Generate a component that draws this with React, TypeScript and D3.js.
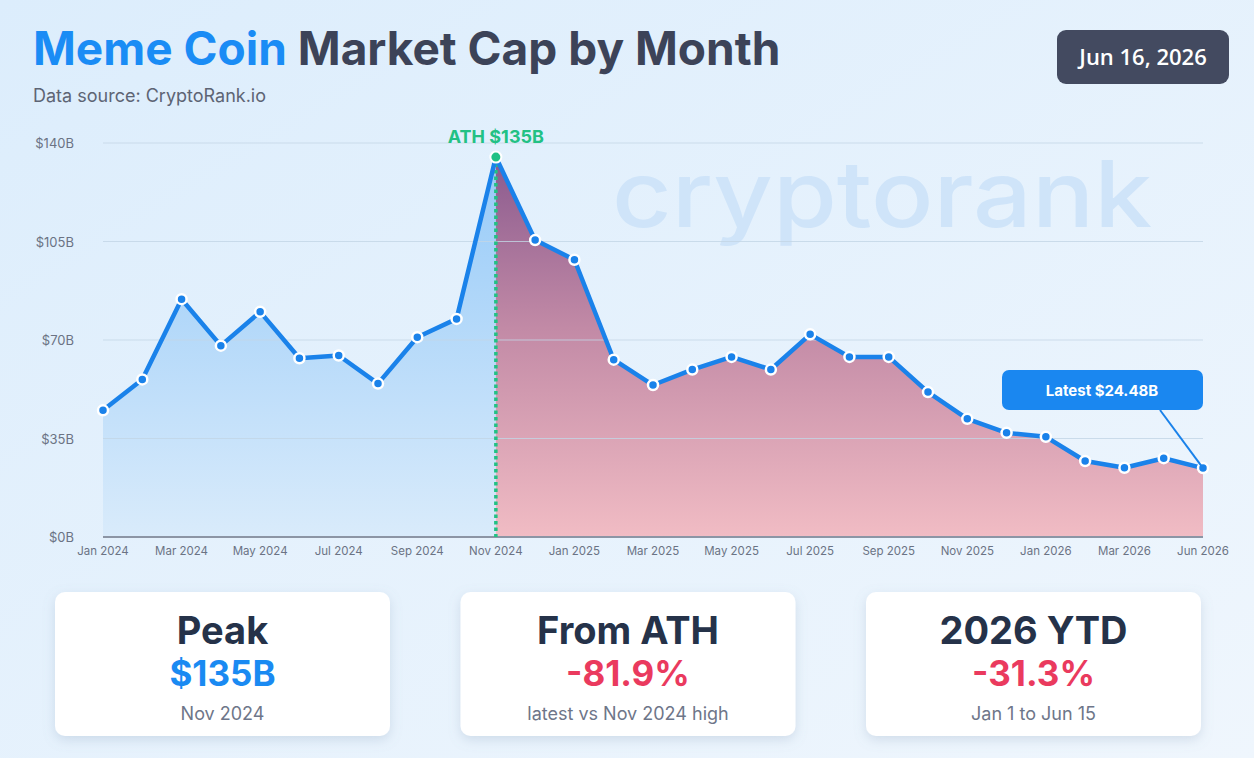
import * as d3 from 'd3';
import React from 'react';

// month labels on the x axis (last point is the partial current month)
const months = [
	'Jan 2024', 'Feb 2024', 'Mar 2024', 'Apr 2024', 'May 2024', 'Jun 2024',
	'Jul 2024', 'Aug 2024', 'Sep 2024', 'Oct 2024', 'Nov 2024', 'Dec 2024',
	'Jan 2025', 'Feb 2025', 'Mar 2025', 'Apr 2025', 'May 2025', 'Jun 2025',
	'Jul 2025', 'Aug 2025', 'Sep 2025', 'Oct 2025', 'Nov 2025', 'Dec 2025',
	'Jan 2026', 'Feb 2026', 'Mar 2026', 'Apr 2026', 'Jun 2026',
];
// market cap, $B
const marketCap = [
	45, 56, 84.5, 68, 80, 63.5, 64.5, 54.5, 71, 77.5, 135, 105.5,
	98.5, 63, 54, 59.5, 64, 59.5, 72, 64, 64, 51.5, 42, 37,
	35.6, 27, 24.6, 28, 24.48,
];
const yTicks = [0, 35, 70, 105, 140];
const tickMonths = [
	'Jan 2024', 'Mar 2024', 'May 2024', 'Jul 2024', 'Sep 2024', 'Nov 2024',
	'Jan 2025', 'Mar 2025', 'May 2025', 'Jul 2025', 'Sep 2025', 'Nov 2025',
	'Jan 2026', 'Mar 2026', 'Jun 2026',
];
const athMonth = 'Nov 2024';
const cards = [
	{ title: 'Peak', value: '$135B', sub: 'Nov 2024', color: '#1a8af2' },
	{ title: 'From ATH', value: '-81.9%', sub: 'latest vs Nov 2024 high', color: '#ea3a5e' },
	{ title: '2026 YTD', value: '-31.3%', sub: 'Jan 1 to Jun 15', color: '#ea3a5e' },
];

const W = 1254;
const H = 758;
const FONT = 'Inter, "Noto Sans", sans-serif';

const App = () => {
	const data = months.map((m, i) => ({ m, v: marketCap[i] }));
	const x = d3.scalePoint<string>().domain(months).range([103, 1203]);
	const y = d3.scaleLinear().domain([0, 140]).range([537, 143]);

	const athIdx = months.indexOf(athMonth);
	const before = data.slice(0, athIdx + 1);
	const after = data.slice(athIdx);
	const last = data[data.length - 1];

	const area = d3.area<{ m: string; v: number }>()
		.x((d) => x(d.m)!)
		.y0(y(0))
		.y1((d) => y(d.v));
	const line = d3.line<{ m: string; v: number }>()
		.x((d) => x(d.m)!)
		.y((d) => y(d.v));

	const athX = x(athMonth)!;
	const athY = y(marketCap[athIdx]);

	return (
		<svg width={W} height={H} style={{ position: 'fixed', left: 0, top: 0 }} fontFamily={FONT}>
			<defs>
				<linearGradient id="bg" x1="0" y1="0" x2="1" y2="1">
					<stop offset="0%" stopColor="#dcedfc" />
					<stop offset="100%" stopColor="#eff6fd" />
				</linearGradient>
				<linearGradient id="blueArea" gradientUnits="userSpaceOnUse" x1="0" y1={y(140)} x2="0" y2={y(0)}>
					<stop offset="0%" stopColor="#94c9f8" />
					<stop offset="100%" stopColor="#d9ebfb" />
				</linearGradient>
				<linearGradient id="redArea" gradientUnits="userSpaceOnUse" x1="0" y1={y(135)} x2="0" y2={y(0)}>
					<stop offset="0%" stopColor="#8a5a8e" />
					<stop offset="45%" stopColor="#c28aa6" />
					<stop offset="100%" stopColor="#f1bcc4" />
				</linearGradient>
				<filter id="shadow" x="-10%" y="-10%" width="120%" height="140%">
					<feDropShadow dx="0" dy="4" stdDeviation="6" floodColor="#7a93b0" floodOpacity="0.25" />
				</filter>
			</defs>
			<rect width={W} height={H} fill="url(#bg)" />

			{/* title */}
			<text x={33} y={65} fontSize={46} fontWeight={700}>
				<tspan fill="#1a8cf5">Meme Coin</tspan>
				<tspan fill="#3c4358"> Market Cap by Month</tspan>
			</text>
			<text x={33} y={102} fontSize={18} fill="#5d6474">Data source: CryptoRank.io</text>

			<rect x={1057} y={30} width={172} height={54} rx={9} fill="#434a60" />
			<text x={1143} y={65} textAnchor="middle" fontSize={22} fontWeight={600}
				fill="#ffffff" fontFamily='"Open Sans", sans-serif'>Jun 16, 2026</text>

			{/* watermark */}
			<text x={612} y={227} fontSize={92} fontWeight={500} fill="#cfe4f9"
				textLength={540} lengthAdjust="spacingAndGlyphs">cryptorank</text>

			{/* areas */}
			<path d={area(before)!} fill="url(#blueArea)" />
			<path d={area(after)!} fill="url(#redArea)" />

			{/* grid */}
			{yTicks.filter((t) => t > 0).map((t) => (
				<line key={t} x1={103} x2={1203} y1={y(t)} y2={y(t)} stroke="#c3d6e6" strokeWidth={1.2} opacity={0.8} />
			))}
			{yTicks.map((t) => (
				<text key={t} x={74} y={y(t) + 5} textAnchor="end" fontSize={13} fill="#6b7384">${t}B</text>
			))}
			<line x1={103} x2={1203} y1={y(0)} y2={y(0)} stroke="#8c95a5" strokeWidth={2} />
			{tickMonths.map((m) => (
				<text key={m} x={x(m)} y={555} textAnchor="middle" fontSize={11.5} fill="#6b7384">{m}</text>
			))}

			{/* ATH marker */}
			<line x1={athX} x2={athX} y1={athY} y2={y(0)} stroke="#22c184" strokeWidth={3.5} strokeDasharray="3.5,3" />

			<path d={line(data)!} fill="none" stroke="#1a82ea" strokeWidth={4.5} strokeLinejoin="round" />
			{data.map((d, i) => i === athIdx ? null : (
				<circle key={d.m} cx={x(d.m)} cy={y(d.v)} r={5} fill="#1a82ea" stroke="#ffffff" strokeWidth={2.5} />
			))}
			<circle cx={athX} cy={athY} r={5.5} fill="#22c184" stroke="#ffffff" strokeWidth={2} />
			<text x={athX} y={143} textAnchor="middle" fontSize={18} fontWeight={700} fill="#22c184">ATH $135B</text>

			{/* latest callout */}
			<line x1={1160} y1={410} x2={x(last.m)} y2={y(last.v)} stroke="#1a82ea" strokeWidth={2} />
			<rect x={1002} y={370} width={201} height={40} rx={7} fill="#1a87f0" />
			<text x={1102} y={396} textAnchor="middle" fontSize={15} fontWeight={700} fill="#ffffff">
				Latest ${last.v}B
			</text>

			{/* summary cards */}
			{cards.map((c, i) => {
				const cx = 55 + i * 405.5;
				return (
					<g key={c.title}>
						<rect x={cx} y={592} width={335} height={144} rx={10} fill="#ffffff" filter="url(#shadow)" />
						<text x={cx + 167.5} y={644} textAnchor="middle" fontSize={38} fontWeight={700} fill="#253249">{c.title}</text>
						<text x={cx + 167.5} y={686} textAnchor="middle" fontSize={35} fontWeight={700} fill={c.color}>{c.value}</text>
						<text x={cx + 167.5} y={720} textAnchor="middle" fontSize={18} fill="#6e7689">{c.sub}</text>
					</g>
				);
			})}
		</svg>
	);
};

export default App;
